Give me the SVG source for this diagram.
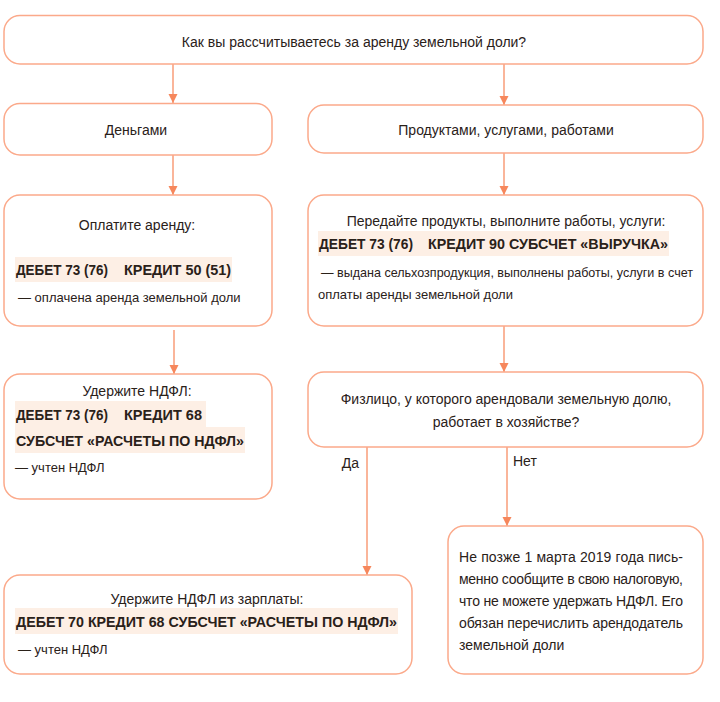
<svg xmlns="http://www.w3.org/2000/svg" width="720" height="702" viewBox="0 0 720 702">
<defs>
<marker id="ah" markerWidth="10" markerHeight="10" refX="9" refY="5" orient="auto" markerUnits="userSpaceOnUse">
<path d="M0,0.5 L9,5 L0,9.5 Z" fill="#F6875C"/>
</marker>
<style>
.box{fill:#fff;stroke:#FBA98A;stroke-width:1.5}
.hl{fill:#FDEFE5}
.t{font-family:"Liberation Sans","Noto Sans",sans-serif;font-size:14px;fill:#2A2119}
.s{font-family:"Liberation Sans","Noto Sans",sans-serif;font-size:13px;fill:#2A2119}
.b{font-family:"Liberation Sans","Noto Sans",sans-serif;font-size:14px;font-weight:bold;fill:#2A2119}
.c{text-anchor:middle}
.con{stroke:#F99C78;stroke-width:1.5;fill:none}
</style>
</defs>
<rect width="720" height="702" fill="#fff"/>

<g id="connectors">
<line class="con" x1="173" y1="64" x2="173" y2="103" marker-end="url(#ah)"/>
<line class="con" x1="504" y1="64" x2="504" y2="105" marker-end="url(#ah)"/>
<line class="con" x1="173" y1="155" x2="173" y2="195" marker-end="url(#ah)"/>
<line class="con" x1="504" y1="153" x2="504" y2="195" marker-end="url(#ah)"/>
<line class="con" x1="174" y1="330" x2="174" y2="374" marker-end="url(#ah)"/>
<line class="con" x1="504" y1="326" x2="504" y2="372" marker-end="url(#ah)"/>
<line class="con" x1="367" y1="447" x2="367" y2="575" marker-end="url(#ah)"/>
<line class="con" x1="507" y1="447" x2="507" y2="526" marker-end="url(#ah)"/>
<text class="t" x="359" y="468" text-anchor="end">Да</text>
<text class="t" x="513" y="466">Нет</text>
</g>

<g id="n-question">
<rect class="box" x="4" y="15.5" width="699" height="48.5" rx="16"/>
<text class="t c" x="354" y="47">Как вы рассчитываетесь за аренду земельной доли?</text>
</g>

<g id="n-money">
<rect class="box" x="4" y="103.5" width="268" height="51.5" rx="16"/>
<text class="t c" x="136" y="135">Деньгами</text>
</g>

<g id="n-goods">
<rect class="box" x="308" y="105" width="395" height="48" rx="16"/>
<text class="t c" x="506" y="135">Продуктами, услугами, работами</text>
</g>

<g id="n-pay">
<rect class="box" x="4" y="195" width="268" height="131" rx="16"/>
<text class="t c" x="137" y="230">Оплатите аренду:</text>
<rect class="hl" x="15" y="257" width="217" height="25"/>
<text class="b" x="16" y="275" textLength="92" lengthAdjust="spacingAndGlyphs">ДЕБЕТ 73 (76)</text>
<text class="b" x="124" y="275" textLength="107" lengthAdjust="spacingAndGlyphs">КРЕДИТ 50 (51)</text>
<text class="s" x="18" y="302">— оплачена аренда земельной доли</text>
</g>

<g id="n-transfer">
<rect class="box" x="308" y="195" width="395" height="131" rx="16"/>
<text class="t c" x="506" y="226">Передайте продукты, выполните работы, услуги:</text>
<rect class="hl" x="318" y="231" width="351" height="25"/>
<text class="b" x="319" y="249" textLength="94" lengthAdjust="spacingAndGlyphs">ДЕБЕТ 73 (76)</text>
<text class="b" x="428" y="249" textLength="240" lengthAdjust="spacingAndGlyphs">КРЕДИТ 90 СУБСЧЕТ «ВЫРУЧКА»</text>
<text class="s" x="321" y="277" textLength="372" lengthAdjust="spacingAndGlyphs">— выдана сельхозпродукция, выполнены работы, услуги в счет</text>
<text class="s" x="318" y="299">оплаты аренды земельной доли</text>
</g>

<g id="n-withhold">
<rect class="box" x="4" y="374" width="268" height="125" rx="16"/>
<text class="t c" x="137" y="396">Удержите НДФЛ:</text>
<rect class="hl" x="15" y="401" width="191" height="26"/>
<rect class="hl" x="15" y="427" width="230" height="26"/>
<text class="b" x="16" y="420" textLength="92" lengthAdjust="spacingAndGlyphs">ДЕБЕТ 73 (76)</text>
<text class="b" x="124" y="420" textLength="78" lengthAdjust="spacingAndGlyphs">КРЕДИТ 68</text>
<text class="b" x="16" y="446" textLength="228" lengthAdjust="spacingAndGlyphs">СУБСЧЕТ «РАСЧЕТЫ ПО НДФЛ»</text>
<text class="s" x="15" y="472">— учтен НДФЛ</text>
</g>

<g id="n-works">
<rect class="box" x="308" y="372" width="395" height="75" rx="16"/>
<text class="t c" x="506" y="404">Физлицо, у которого арендовали земельную долю,</text>
<text class="t c" x="506" y="427">работает в хозяйстве?</text>
</g>

<g id="n-salary">
<rect class="box" x="4" y="575" width="408" height="99" rx="16"/>
<text class="t c" x="207" y="604">Удержите НДФЛ из зарплаты:</text>
<rect class="hl" x="15" y="608" width="383" height="26"/>
<text class="b" x="16" y="627" textLength="381" lengthAdjust="spacingAndGlyphs">ДЕБЕТ 70 КРЕДИТ 68 СУБСЧЕТ «РАСЧЕТЫ ПО НДФЛ»</text>
<text class="s" x="18" y="654">— учтен НДФЛ</text>
</g>

<g id="n-notify">
<rect class="box" x="448" y="526" width="255" height="148" rx="16"/>
<text class="t" x="459" y="562" textLength="224" lengthAdjust="spacing">Не позже 1 марта 2019 года пись-</text>
<text class="t" x="459" y="584" textLength="224" lengthAdjust="spacing">менно сообщите в свою налоговую,</text>
<text class="t" x="459" y="606" textLength="224" lengthAdjust="spacing">что не можете удержать НДФЛ. Его</text>
<text class="t" x="459" y="628" textLength="224" lengthAdjust="spacing">обязан перечислить арендодатель</text>
<text class="t" x="459" y="650">земельной доли</text>
</g>
</svg>
